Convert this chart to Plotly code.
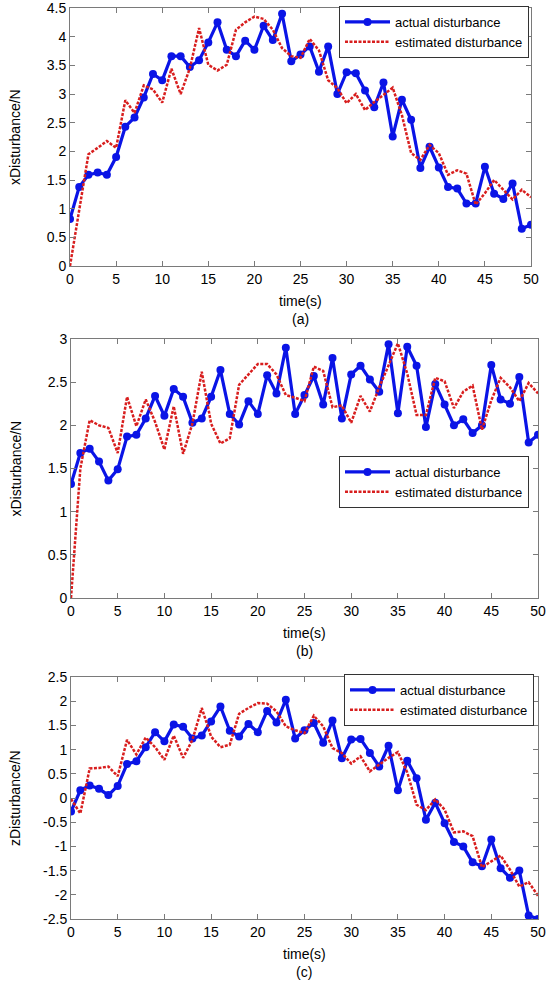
import plotly.graph_objects as go

# %% — Data
time = list(range(51))

a_actual = [0.82, 1.38, 1.59, 1.63, 1.59, 1.90, 2.43, 2.59, 2.94, 3.35, 3.24,
            3.66, 3.66, 3.47, 3.59, 3.90, 4.25, 3.77, 3.66, 3.93, 3.77,
            4.19, 3.94, 4.40, 3.57, 3.69, 3.83, 3.39, 3.83, 3.00, 3.38,
            3.36, 3.06, 2.77, 3.20, 2.26, 2.90, 2.55, 1.71, 2.08, 1.72,
            1.38, 1.35, 1.09, 1.09, 1.73, 1.26, 1.17, 1.44, 0.65, 0.72]
a_estimated = [0.00, 0.98, 1.95, 2.06, 2.18, 2.06, 2.89, 2.67, 3.15, 3.08, 2.85,
               3.44, 3.00, 3.45, 4.15, 3.51, 3.41, 3.51, 4.12, 4.25, 4.35,
               4.31, 4.12, 3.80, 3.66, 3.63, 3.96, 3.76, 3.24, 3.10, 2.84,
               3.00, 2.72, 2.86, 2.98, 3.11, 2.63, 1.97, 1.85, 2.11, 1.97,
               1.59, 1.67, 1.61, 1.07, 1.27, 1.50, 1.33, 1.16, 1.33, 1.20]

b_actual = [1.32, 1.68, 1.73, 1.58, 1.36, 1.49, 1.87, 1.89, 2.08, 2.34, 2.11,
            2.42, 2.33, 2.03, 2.08, 2.33, 2.64, 2.13, 2.01, 2.28, 2.13,
            2.58, 2.37, 2.90, 2.13, 2.35, 2.57, 2.24, 2.78, 2.08, 2.59,
            2.69, 2.53, 2.39, 2.94, 2.14, 2.91, 2.69, 1.98, 2.48, 2.24,
            2.00, 2.07, 1.91, 2.00, 2.70, 2.30, 2.25, 2.56, 1.80, 1.89]
b_estimated = [0.00, 1.50, 2.06, 2.00, 1.97, 1.68, 2.33, 1.99, 2.30, 2.04, 1.72,
               2.22, 1.67, 2.02, 2.62, 2.02, 1.79, 1.85, 2.47, 2.59, 2.71,
               2.71, 2.59, 2.35, 2.32, 2.28, 2.68, 2.63, 2.21, 2.23, 2.03,
               2.34, 2.16, 2.44, 2.69, 2.95, 2.60, 2.12, 2.12, 2.55, 2.51,
               2.20, 2.39, 2.46, 1.95, 2.29, 2.55, 2.44, 2.28, 2.49, 2.37]

c_actual = [-0.28, 0.16, 0.26, 0.19, 0.06, 0.25, 0.70, 0.76, 1.05, 1.36, 1.17,
            1.52, 1.47, 1.23, 1.29, 1.58, 1.89, 1.39, 1.27, 1.53, 1.36,
            1.80, 1.56, 2.03, 1.23, 1.40, 1.55, 1.14, 1.60, 0.82, 1.21,
            1.22, 0.93, 0.65, 1.08, 0.16, 0.77, 0.41, -0.45, -0.10, -0.52,
            -0.91, -1.00, -1.33, -1.41, -0.86, -1.45, -1.65, -1.50, -2.43, -2.50]
c_estimated = [-0.02, -0.32, 0.61, 0.62, 0.65, 0.45, 1.20, 0.90, 1.25, 1.05, 0.79,
               1.29, 0.83, 1.20, 1.86, 1.27, 1.05, 1.10, 1.74, 1.86, 1.96,
               1.95, 1.79, 1.48, 1.40, 1.34, 1.70, 1.48, 1.03, 0.93, 0.71,
               0.86, 0.55, 0.69, 0.83, 0.95, 0.53, -0.14, -0.25, -0.03, -0.24,
               -0.71, -0.69, -0.79, -1.43, -1.31, -1.19, -1.48, -1.83, -1.74, -2.02]

x_ticks = list(range(0, 51, 5))
a_yticks = [0, 0.5, 1, 1.5, 2, 2.5, 3, 3.5, 4, 4.5]
b_yticks = [0, 0.5, 1, 1.5, 2, 2.5, 3]
c_yticks = [-2.5, -2, -1.5, -1, -0.5, 0, 0.5, 1, 1.5, 2, 2.5]

y_titles = ['xDisturbance/N', 'xDisturbance/N', 'zDisturbance/N']
captions = ['(a)', '(b)', '(c)']

# %% — Layout constants (pixel positions measured on the reference page)
W, H = 551, 982
FONT = 'Liberation Sans, Arial, sans-serif'
BLUE = '#0a14e6'
RED = '#d81e1e'
GREY = '#7a7a7a'

panels = [
    # axes box x0/x1, y_top/y_bottom in px, legend centre in px
    dict(x=(70, 531), y=(8, 266), act=a_actual, est=a_estimated,
         yt=a_yticks, yr=[0, 4.5], leg=(339, 32)),
    dict(x=(71, 538), y=(339, 598), act=b_actual, est=b_estimated,
         yt=b_yticks, yr=[0, 3], leg=(339, 482)),
    dict(x=(71, 538), y=(677, 919), act=c_actual, est=c_estimated,
         yt=c_yticks, yr=[-2.5, 2.5], leg=(344, 700)),
]


def px_x(v):
    return v / W


def px_y(v):
    return 1 - v / H


fig = go.Figure()
annotations = []

for i, p in enumerate(panels, start=1):
    sfx = '' if i == 1 else str(i)
    leg = 'legend' if i == 1 else f'legend{i}'
    fig.add_trace(go.Scatter(
        x=time, y=p['act'], mode='lines+markers', name='actual disturbance',
        line=dict(color=BLUE, width=3.2), marker=dict(color=BLUE, size=8),
        xaxis=f'x{sfx}', yaxis=f'y{sfx}', legend=leg,
    ))
    fig.add_trace(go.Scatter(
        x=time, y=p['est'], mode='lines', name='estimated disturbance',
        line=dict(color=RED, width=2.5, dash='3px,1.5px'),
        xaxis=f'x{sfx}', yaxis=f'y{sfx}', legend=leg,
    ))

    xd = [px_x(p['x'][0]), px_x(p['x'][1])]
    yd = [px_y(p['y'][1]), px_y(p['y'][0])]
    axis_common = dict(showline=True, mirror='ticks', linecolor=GREY, linewidth=1,
                       ticks='inside', ticklen=5, tickcolor=GREY, showgrid=False,
                       zeroline=False, automargin=False, ticklabeloverflow='allow',
                       tickfont=dict(family=FONT, size=14, color='black'))
    fig.update_layout(**{
        f'xaxis{sfx}': dict(domain=xd, range=[0, 50], anchor=f'y{sfx}',
                            tickvals=x_ticks, **axis_common),
        f'yaxis{sfx}': dict(domain=yd, range=p['yr'], anchor=f'x{sfx}',
                            tickvals=p['yt'], ticktext=[f'{v:g}' for v in p['yt']],
                            **axis_common),
        leg: dict(x=px_x(p['leg'][0]), y=px_y(p['leg'][1]), xanchor='left', yanchor='middle',
                  bordercolor='#333333', borderwidth=1, bgcolor='white',
                  font=dict(family=FONT, size=13, color='black'),
                  itemwidth=45, tracegroupgap=0),
    })

    xc = (xd[0] + xd[1]) / 2
    annotations += [
        dict(text=y_titles[i - 1], x=px_x(15), y=(yd[0] + yd[1]) / 2, textangle=-90),
        dict(text='time(s)', x=xc, y=px_y(p['y'][1] + 35)),
        dict(text=captions[i - 1], x=xc, y=px_y(p['y'][1] + 53)),
    ]

for a in annotations:
    a.update(xref='paper', yref='paper', showarrow=False, xanchor='center', yanchor='middle',
             font=dict(family=FONT, size=14, color='black'))

fig.update_layout(
    width=W, height=H,
    margin=dict(l=0, r=0, t=0, b=0),
    paper_bgcolor='white', plot_bgcolor='white',
    showlegend=True, hovermode=False,
    annotations=annotations,
)

# drop the browser's default 8px body margin so the figure fills the window
fig.write_html('out.html', config={'displayModeBar': False},
               post_script="document.body.style.margin = '0';")
